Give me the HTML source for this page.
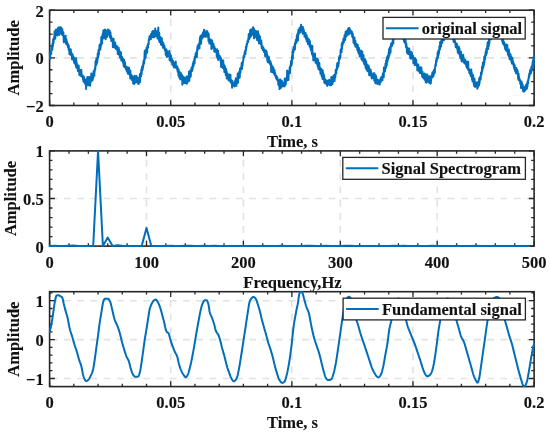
<!DOCTYPE html>
<html><head><meta charset="utf-8"><title>Signal plots</title>
<style>html,body{margin:0;padding:0;background:#fff;width:550px;height:436px;overflow:hidden}svg{display:block}</style>
</head><body>
<svg width="550" height="436" viewBox="0 0 550 436" font-family="'Liberation Serif', 'Times New Roman', serif" font-weight="bold" font-size="16.5">
<style>text{fill:#111;stroke:#111;stroke-width:0.12px}</style>
<rect width="550" height="436" fill="#fff"/>
<path d="M170.72 105.5V10.2M291.85 105.5V10.2M412.97 105.5V10.2M50.7 57.85H534.1" stroke="#e2e2e2" stroke-width="1.6" stroke-dasharray="6.8 6.43" fill="none"/>
<path d="M49.6 105.5v-5.3M49.6 10.2v5.3M170.72 105.5v-5.3M170.72 10.2v5.3M291.85 105.5v-5.3M291.85 10.2v5.3M412.97 105.5v-5.3M412.97 10.2v5.3M534.1 105.5v-5.3M534.1 10.2v5.3M73.83 105.5v-2.9M73.83 10.2v2.9M98.05 105.5v-2.9M98.05 10.2v2.9M122.28 105.5v-2.9M122.28 10.2v2.9M146.5 105.5v-2.9M146.5 10.2v2.9M194.95 105.5v-2.9M194.95 10.2v2.9M219.18 105.5v-2.9M219.18 10.2v2.9M243.4 105.5v-2.9M243.4 10.2v2.9M267.62 105.5v-2.9M267.62 10.2v2.9M316.07 105.5v-2.9M316.07 10.2v2.9M340.3 105.5v-2.9M340.3 10.2v2.9M364.53 105.5v-2.9M364.53 10.2v2.9M388.75 105.5v-2.9M388.75 10.2v2.9M437.2 105.5v-2.9M437.2 10.2v2.9M461.43 105.5v-2.9M461.43 10.2v2.9M485.65 105.5v-2.9M485.65 10.2v2.9M509.88 105.5v-2.9M509.88 10.2v2.9M49.6 105.5h5.3M534.1 105.5h-5.3M49.6 57.85h5.3M534.1 57.85h-5.3M49.6 10.2h5.3M534.1 10.2h-5.3M49.6 93.59h2.9M534.1 93.59h-2.9M49.6 81.67h2.9M534.1 81.67h-2.9M49.6 69.76h2.9M534.1 69.76h-2.9M49.6 45.94h2.9M534.1 45.94h-2.9M49.6 34.03h2.9M534.1 34.03h-2.9M49.6 22.11h2.9M534.1 22.11h-2.9" stroke="#262626" stroke-width="1.3" fill="none"/>
<rect x="49.6" y="10.2" width="484.5" height="95.3" stroke="#262626" stroke-width="1.6" fill="none"/>
<clipPath id="c0"><rect x="48.6" y="9.2" width="486.5" height="97.3"/></clipPath>
<path d="M49.60 52.28L49.76 54.83L49.92 55.17L50.08 58.95L50.25 55.10L50.41 54.78L50.57 53.69L50.73 54.32L50.89 52.51L51.05 52.86L51.22 54.05L51.38 48.73L51.54 48.10L51.70 45.64L51.86 48.48L52.02 48.71L52.18 48.24L52.35 49.60L52.51 43.39L52.67 47.06L52.83 46.46L52.99 43.58L53.15 39.20L53.31 41.14L53.48 43.07L53.64 41.61L53.80 37.95L53.96 38.85L54.12 39.38L54.28 37.48L54.45 34.69L54.61 31.41L54.77 37.73L54.93 35.90L55.09 35.79L55.25 38.76L55.41 35.07L55.58 34.82L55.74 29.79L55.90 32.09L56.06 34.95L56.22 29.80L56.38 31.75L56.54 34.61L56.71 32.11L56.87 32.06L57.03 32.64L57.19 30.68L57.35 35.54L57.51 31.27L57.67 28.51L57.84 28.84L58.00 28.29L58.16 28.26L58.32 27.47L58.48 33.06L58.64 28.87L58.81 34.70L58.97 32.04L59.13 34.89L59.29 28.59L59.45 28.03L59.61 31.37L59.77 27.21L59.94 32.52L60.10 30.82L60.26 30.87L60.42 33.55L60.58 30.38L60.74 27.22L60.91 33.63L61.07 29.55L61.23 31.86L61.39 27.79L61.55 30.61L61.71 30.26L61.87 30.41L62.04 31.35L62.20 34.98L62.36 29.14L62.52 35.31L62.68 32.23L62.84 31.87L63.00 35.49L63.17 33.90L63.33 32.20L63.49 35.21L63.65 37.48L63.81 42.24L63.97 38.48L64.14 38.08L64.30 38.33L64.46 39.68L64.62 37.22L64.78 39.65L64.94 39.05L65.10 37.74L65.27 41.40L65.43 40.57L65.59 35.64L65.75 38.73L65.91 43.70L66.07 41.42L66.23 40.36L66.40 39.25L66.56 41.90L66.72 43.69L66.88 44.46L67.04 41.86L67.20 42.93L67.37 45.09L67.53 44.79L67.69 45.70L67.85 43.72L68.01 47.25L68.17 45.24L68.33 44.98L68.50 46.31L68.66 49.68L68.82 45.55L68.98 50.42L69.14 48.58L69.30 51.61L69.46 54.21L69.63 50.43L69.79 50.71L69.95 51.87L70.11 51.48L70.27 53.80L70.43 54.33L70.59 53.42L70.76 49.28L70.92 51.93L71.08 55.09L71.24 53.07L71.40 55.58L71.56 55.83L71.73 53.31L71.89 56.58L72.05 59.35L72.21 58.02L72.37 56.21L72.53 56.47L72.69 54.42L72.86 58.97L73.02 56.21L73.18 57.22L73.34 58.81L73.50 57.05L73.66 58.14L73.83 61.39L73.99 57.59L74.15 62.85L74.31 60.44L74.47 60.89L74.63 60.31L74.79 63.09L74.96 61.91L75.12 62.44L75.28 60.29L75.44 64.42L75.60 62.85L75.76 63.85L75.92 66.36L76.09 58.12L76.25 64.31L76.41 67.64L76.57 61.73L76.73 67.35L76.89 64.58L77.06 63.85L77.22 67.42L77.38 67.30L77.54 67.89L77.70 67.36L77.86 70.93L78.02 70.46L78.19 68.47L78.35 66.31L78.51 67.54L78.67 65.54L78.83 68.10L78.99 71.02L79.15 70.52L79.32 74.92L79.48 72.92L79.64 73.33L79.80 70.84L79.96 70.29L80.12 73.14L80.28 73.46L80.45 75.78L80.61 73.00L80.77 72.48L80.93 72.35L81.09 75.30L81.25 69.69L81.42 71.75L81.58 74.91L81.74 76.31L81.90 76.41L82.06 75.97L82.22 76.91L82.38 76.38L82.55 76.27L82.71 75.41L82.87 76.31L83.03 79.42L83.19 78.75L83.35 80.80L83.52 81.59L83.68 76.58L83.84 81.97L84.00 76.99L84.16 82.25L84.32 81.17L84.48 79.59L84.65 82.08L84.81 81.49L84.97 83.04L85.13 83.72L85.29 83.21L85.45 84.39L85.61 79.61L85.78 83.55L85.94 79.55L86.10 89.02L86.26 83.22L86.42 82.04L86.58 83.85L86.75 80.84L86.91 81.77L87.07 83.67L87.23 82.09L87.39 76.93L87.55 82.35L87.71 82.18L87.88 83.69L88.04 82.38L88.20 85.35L88.36 82.93L88.52 77.13L88.68 80.00L88.84 80.78L89.01 79.64L89.17 77.82L89.33 80.41L89.49 77.06L89.65 79.02L89.81 80.76L89.97 77.24L90.14 85.78L90.30 81.75L90.46 79.75L90.62 82.07L90.78 80.25L90.94 81.09L91.11 80.92L91.27 73.50L91.43 77.76L91.59 79.01L91.75 75.85L91.91 78.94L92.07 76.28L92.24 77.17L92.40 74.15L92.56 80.39L92.72 75.39L92.88 76.43L93.04 78.79L93.21 73.58L93.37 77.23L93.53 71.34L93.69 73.12L93.85 72.11L94.01 72.80L94.17 70.38L94.34 75.67L94.50 70.87L94.66 71.73L94.82 69.10L94.98 69.12L95.14 66.98L95.30 69.37L95.47 62.89L95.63 61.12L95.79 65.79L95.95 64.63L96.11 63.24L96.27 60.42L96.44 58.34L96.60 64.29L96.76 62.32L96.92 62.58L97.08 62.00L97.24 62.43L97.40 57.44L97.57 60.00L97.73 53.58L97.89 54.14L98.05 57.56L98.21 56.82L98.37 55.15L98.53 50.06L98.70 54.09L98.86 54.68L99.02 50.80L99.18 49.12L99.34 50.57L99.50 44.95L99.66 47.19L99.83 46.05L99.99 48.20L100.15 45.81L100.31 45.44L100.47 49.37L100.63 43.28L100.80 47.16L100.96 42.79L101.12 45.32L101.28 37.25L101.44 40.31L101.60 38.59L101.76 37.88L101.93 42.07L102.09 43.48L102.25 38.63L102.41 35.34L102.57 36.44L102.73 34.35L102.90 33.49L103.06 38.24L103.22 34.05L103.38 30.17L103.54 35.35L103.70 38.23L103.86 34.14L104.03 34.42L104.19 32.33L104.35 34.98L104.51 32.74L104.67 37.60L104.83 30.97L104.99 29.40L105.16 30.02L105.32 36.05L105.48 32.12L105.64 39.20L105.80 32.19L105.96 32.94L106.12 34.94L106.29 32.06L106.45 32.50L106.61 30.79L106.77 32.53L106.93 32.30L107.09 36.97L107.26 35.29L107.42 33.82L107.58 32.16L107.74 32.81L107.90 29.59L108.06 34.70L108.22 33.39L108.39 32.40L108.55 33.54L108.71 32.08L108.87 34.49L109.03 30.35L109.19 34.23L109.35 31.31L109.52 33.93L109.68 30.84L109.84 37.22L110.00 33.29L110.16 35.52L110.32 34.33L110.49 32.55L110.65 37.87L110.81 38.63L110.97 38.33L111.13 36.06L111.29 41.09L111.45 37.29L111.62 40.72L111.78 40.87L111.94 39.66L112.10 38.50L112.26 41.09L112.42 41.20L112.59 40.64L112.75 41.55L112.91 47.13L113.07 42.74L113.23 42.07L113.39 40.33L113.55 38.72L113.72 42.10L113.88 43.77L114.04 46.40L114.20 44.52L114.36 43.39L114.52 42.68L114.68 47.58L114.85 45.47L115.01 44.48L115.17 42.49L115.33 46.16L115.49 48.09L115.65 48.61L115.81 48.10L115.98 48.93L116.14 45.96L116.30 45.64L116.46 46.57L116.62 45.77L116.78 49.51L116.95 47.94L117.11 49.81L117.27 49.13L117.43 46.85L117.59 49.80L117.75 54.00L117.91 50.82L118.08 52.08L118.24 54.07L118.40 52.81L118.56 49.35L118.72 48.10L118.88 53.06L119.04 50.17L119.21 50.11L119.37 55.45L119.53 53.38L119.69 53.73L119.85 53.62L120.01 57.78L120.18 55.50L120.34 52.88L120.50 52.85L120.66 52.04L120.82 57.11L120.98 52.80L121.14 55.79L121.31 60.55L121.47 56.41L121.63 59.19L121.79 57.71L121.95 59.41L122.11 56.97L122.28 59.37L122.44 60.89L122.60 58.57L122.76 60.44L122.92 62.22L123.08 58.94L123.24 62.90L123.41 63.73L123.57 63.85L123.73 66.17L123.89 64.54L124.05 59.69L124.21 65.95L124.37 64.30L124.54 67.02L124.70 66.27L124.86 62.02L125.02 63.68L125.18 67.22L125.34 66.21L125.50 68.29L125.67 68.50L125.83 69.07L125.99 69.31L126.15 66.96L126.31 66.64L126.47 67.12L126.64 68.76L126.80 71.52L126.96 68.95L127.12 70.97L127.28 67.28L127.44 68.15L127.60 67.91L127.77 70.43L127.93 73.75L128.09 67.99L128.25 67.61L128.41 73.63L128.57 70.38L128.74 68.36L128.90 73.49L129.06 67.71L129.22 72.60L129.38 74.54L129.54 69.70L129.70 72.43L129.87 74.89L130.03 72.02L130.19 78.51L130.35 70.81L130.51 76.81L130.67 74.78L130.83 76.57L131.00 75.11L131.16 74.46L131.32 78.46L131.48 75.32L131.64 77.95L131.80 79.09L131.97 78.38L132.13 80.32L132.29 80.13L132.45 76.62L132.61 79.18L132.77 76.59L132.93 78.27L133.10 81.54L133.26 83.55L133.42 81.10L133.58 79.20L133.74 79.88L133.90 81.80L134.06 77.97L134.23 83.99L134.39 83.04L134.55 80.14L134.71 75.78L134.87 79.64L135.03 82.72L135.19 79.30L135.36 79.11L135.52 78.56L135.68 81.45L135.84 82.29L136.00 80.32L136.16 79.68L136.33 77.15L136.49 76.09L136.65 82.14L136.81 81.69L136.97 80.71L137.13 81.11L137.29 79.53L137.46 79.53L137.62 80.02L137.78 77.69L137.94 80.91L138.10 82.78L138.26 83.79L138.42 82.51L138.59 82.37L138.75 83.97L138.91 78.27L139.07 79.03L139.23 80.05L139.39 80.75L139.56 81.93L139.72 80.20L139.88 73.94L140.04 82.24L140.20 76.72L140.36 74.90L140.52 75.62L140.69 75.97L140.85 73.00L141.01 76.36L141.17 72.15L141.33 69.62L141.49 74.30L141.66 73.17L141.82 70.46L141.98 67.95L142.14 66.50L142.30 67.21L142.46 69.40L142.62 69.64L142.79 66.01L142.95 64.96L143.11 67.47L143.27 64.28L143.43 62.98L143.59 60.72L143.75 64.36L143.92 60.31L144.08 63.28L144.24 60.97L144.40 59.51L144.56 55.40L144.72 50.87L144.89 56.78L145.05 55.63L145.21 53.92L145.37 58.40L145.53 53.24L145.69 56.96L145.85 50.23L146.02 50.05L146.18 51.48L146.34 53.70L146.50 47.80L146.66 50.21L146.82 49.91L146.98 48.27L147.15 52.54L147.31 47.30L147.47 45.44L147.63 46.20L147.79 45.97L147.95 47.69L148.12 43.63L148.28 43.97L148.44 43.77L148.60 44.37L148.76 40.68L148.92 39.20L149.08 40.41L149.25 38.72L149.41 37.23L149.57 36.15L149.73 38.61L149.89 39.16L150.05 39.25L150.21 38.02L150.38 36.57L150.54 35.47L150.70 38.15L150.86 36.67L151.02 38.90L151.18 33.84L151.34 37.19L151.51 35.39L151.67 37.50L151.83 36.41L151.99 37.05L152.15 31.74L152.31 34.43L152.48 35.38L152.64 36.88L152.80 35.98L152.96 33.29L153.12 30.79L153.28 37.29L153.44 36.06L153.61 34.36L153.77 35.23L153.93 37.37L154.09 33.71L154.25 32.08L154.41 37.01L154.58 33.13L154.74 31.46L154.90 31.38L155.06 34.34L155.22 28.47L155.38 32.19L155.54 35.10L155.71 31.24L155.87 35.76L156.03 31.46L156.19 36.14L156.35 31.82L156.51 34.86L156.67 31.30L156.84 32.28L157.00 33.06L157.16 34.05L157.32 32.01L157.48 38.38L157.64 33.77L157.81 33.98L157.97 33.84L158.13 33.45L158.29 27.46L158.45 35.34L158.61 34.07L158.77 35.68L158.94 32.87L159.10 40.81L159.26 33.09L159.42 38.45L159.58 42.10L159.74 39.83L159.90 38.17L160.07 37.66L160.23 38.47L160.39 36.91L160.55 39.04L160.71 39.42L160.87 44.21L161.03 38.92L161.20 38.16L161.36 41.60L161.52 45.10L161.68 44.32L161.84 38.25L162.00 43.52L162.17 44.02L162.33 44.72L162.49 41.88L162.65 44.97L162.81 45.95L162.97 47.69L163.13 45.07L163.30 43.07L163.46 45.92L163.62 44.09L163.78 45.99L163.94 46.44L164.10 46.76L164.27 47.47L164.43 45.78L164.59 47.38L164.75 50.14L164.91 49.10L165.07 50.01L165.23 49.27L165.40 50.37L165.56 50.30L165.72 54.75L165.88 51.13L166.04 49.44L166.20 55.42L166.36 49.30L166.53 52.25L166.69 53.46L166.85 56.99L167.01 50.88L167.17 55.38L167.33 54.47L167.50 52.27L167.66 55.71L167.82 55.70L167.98 56.13L168.14 53.99L168.30 52.59L168.46 53.10L168.63 53.23L168.79 55.01L168.95 54.21L169.11 56.29L169.27 50.88L169.43 55.13L169.59 60.15L169.76 58.67L169.92 53.35L170.08 60.11L170.24 58.48L170.40 57.00L170.56 60.54L170.72 56.22L170.89 55.22L171.05 60.89L171.21 57.01L171.37 61.64L171.53 62.17L171.69 59.80L171.86 60.10L172.02 62.17L172.18 59.37L172.34 64.61L172.50 63.56L172.66 64.31L172.82 60.64L172.99 60.80L173.15 61.36L173.31 65.82L173.47 63.01L173.63 62.56L173.79 67.26L173.95 65.80L174.12 62.89L174.28 63.00L174.44 64.20L174.60 63.81L174.76 64.50L174.92 65.09L175.09 65.86L175.25 67.69L175.41 66.53L175.57 67.04L175.73 61.38L175.89 65.97L176.05 66.72L176.22 67.37L176.38 67.30L176.54 67.83L176.70 66.28L176.86 67.74L177.02 66.17L177.19 69.67L177.35 67.73L177.51 66.97L177.67 71.74L177.83 69.36L177.99 69.67L178.15 71.40L178.32 72.20L178.48 75.60L178.64 69.58L178.80 74.43L178.96 75.44L179.12 71.71L179.28 77.39L179.45 71.72L179.61 73.18L179.77 73.14L179.93 75.08L180.09 77.64L180.25 79.36L180.41 72.47L180.58 76.87L180.74 77.22L180.90 72.97L181.06 77.95L181.22 77.33L181.38 77.55L181.55 77.55L181.71 79.69L181.87 78.87L182.03 75.11L182.19 76.42L182.35 84.63L182.51 82.62L182.68 77.88L182.84 79.01L183.00 79.73L183.16 76.84L183.32 83.05L183.48 76.80L183.65 79.23L183.81 78.47L183.97 79.25L184.13 78.13L184.29 80.62L184.45 81.39L184.61 78.69L184.78 80.11L184.94 83.29L185.10 77.81L185.26 78.18L185.42 77.75L185.58 80.70L185.74 80.13L185.91 81.67L186.07 82.90L186.23 80.60L186.39 80.27L186.55 81.97L186.71 76.50L186.88 83.76L187.04 81.90L187.20 81.44L187.36 77.08L187.52 80.25L187.68 80.22L187.84 81.21L188.01 80.71L188.17 81.60L188.33 76.33L188.49 76.88L188.65 75.73L188.81 78.93L188.97 71.76L189.14 78.89L189.30 80.81L189.46 76.66L189.62 75.36L189.78 73.66L189.94 77.09L190.10 73.26L190.27 70.46L190.43 75.54L190.59 74.88L190.75 76.51L190.91 71.89L191.07 70.12L191.24 69.85L191.40 69.24L191.56 67.52L191.72 69.80L191.88 67.55L192.04 71.15L192.20 70.31L192.37 67.60L192.53 69.35L192.69 65.85L192.85 63.59L193.01 65.13L193.17 67.03L193.33 66.50L193.50 61.40L193.66 65.48L193.82 63.01L193.98 63.19L194.14 61.95L194.30 59.14L194.47 62.08L194.63 63.38L194.79 56.66L194.95 58.70L195.11 57.03L195.27 58.03L195.43 55.72L195.60 54.07L195.76 53.26L195.92 56.17L196.08 55.75L196.24 53.56L196.40 53.37L196.56 52.03L196.73 54.20L196.89 57.10L197.05 50.59L197.21 49.32L197.37 49.07L197.53 46.34L197.70 47.52L197.86 49.64L198.02 46.16L198.18 47.92L198.34 44.51L198.50 46.16L198.66 45.17L198.83 45.13L198.99 44.97L199.15 47.77L199.31 43.90L199.47 48.36L199.63 41.87L199.79 40.27L199.96 37.47L200.12 40.55L200.28 42.39L200.44 43.78L200.60 35.75L200.76 42.56L200.93 37.19L201.09 43.67L201.25 38.45L201.41 36.51L201.57 36.92L201.73 37.36L201.89 38.71L202.06 38.58L202.22 34.18L202.38 35.14L202.54 36.18L202.70 35.17L202.86 37.40L203.02 33.01L203.19 32.29L203.35 36.46L203.51 34.38L203.67 32.17L203.83 35.62L203.99 29.74L204.16 30.74L204.32 34.48L204.48 31.72L204.64 30.22L204.80 36.45L204.96 32.45L205.12 34.09L205.29 34.24L205.45 32.26L205.61 34.80L205.77 36.78L205.93 36.83L206.09 33.82L206.25 32.43L206.42 33.83L206.58 34.11L206.74 33.87L206.90 31.10L207.06 32.84L207.22 35.73L207.39 34.94L207.55 31.97L207.71 36.05L207.87 35.93L208.03 35.45L208.19 38.00L208.35 34.12L208.52 41.11L208.68 33.69L208.84 38.35L209.00 40.88L209.16 38.41L209.32 43.48L209.49 39.33L209.65 39.27L209.81 42.52L209.97 42.44L210.13 39.85L210.29 43.58L210.45 42.33L210.62 41.86L210.78 39.46L210.94 44.09L211.10 43.13L211.26 40.98L211.42 49.10L211.58 44.41L211.75 48.16L211.91 48.27L212.07 40.40L212.23 44.42L212.39 41.96L212.55 45.94L212.72 44.55L212.88 46.92L213.04 47.46L213.20 46.74L213.36 46.61L213.52 43.90L213.68 47.93L213.85 47.01L214.01 48.70L214.17 48.16L214.33 51.64L214.49 46.87L214.65 50.74L214.81 49.96L214.98 50.95L215.14 48.81L215.30 50.22L215.46 51.71L215.62 51.73L215.78 51.69L215.94 51.07L216.11 51.82L216.27 50.33L216.43 49.79L216.59 52.09L216.75 56.38L216.91 49.92L217.08 49.18L217.24 54.68L217.40 54.91L217.56 58.56L217.72 52.60L217.88 56.57L218.04 50.64L218.21 60.05L218.37 54.78L218.53 53.71L218.69 56.26L218.85 57.36L219.01 55.40L219.18 57.37L219.34 57.28L219.50 56.94L219.66 58.37L219.82 57.99L219.98 56.15L220.14 59.02L220.31 58.20L220.47 60.56L220.63 57.38L220.79 62.50L220.95 58.11L221.11 67.07L221.27 62.95L221.44 64.83L221.60 59.66L221.76 61.67L221.92 65.45L222.08 64.26L222.24 60.53L222.40 63.91L222.57 62.93L222.73 67.72L222.89 68.06L223.05 63.94L223.21 60.56L223.37 67.00L223.54 64.91L223.70 68.54L223.86 64.17L224.02 68.17L224.18 68.48L224.34 71.96L224.50 69.16L224.67 68.25L224.83 66.08L224.99 71.96L225.15 67.75L225.31 71.00L225.47 71.30L225.63 73.14L225.80 75.17L225.96 74.54L226.12 68.86L226.28 75.30L226.44 74.07L226.60 71.13L226.77 78.39L226.93 73.25L227.09 75.63L227.25 74.46L227.41 73.32L227.57 75.82L227.73 76.22L227.90 74.53L228.06 75.02L228.22 78.21L228.38 77.36L228.54 80.12L228.70 74.74L228.87 80.38L229.03 77.65L229.19 74.58L229.35 76.86L229.51 79.49L229.67 80.70L229.83 80.75L230.00 77.70L230.16 79.20L230.32 80.19L230.48 74.84L230.64 82.46L230.80 81.94L230.96 81.92L231.13 80.85L231.29 80.84L231.45 82.26L231.61 80.27L231.77 80.87L231.93 82.85L232.09 87.65L232.26 80.87L232.42 84.77L232.58 84.30L232.74 83.36L232.90 85.84L233.06 85.04L233.23 83.27L233.39 84.23L233.55 82.86L233.71 85.41L233.87 84.06L234.03 85.82L234.19 84.12L234.36 82.84L234.52 83.91L234.68 86.39L234.84 83.64L235.00 82.82L235.16 80.62L235.33 83.04L235.49 83.73L235.65 85.25L235.81 78.35L235.97 84.51L236.13 84.74L236.29 82.47L236.46 85.87L236.62 79.45L236.78 81.14L236.94 80.25L237.10 83.15L237.26 81.86L237.42 78.59L237.59 78.11L237.75 73.55L237.91 76.81L238.07 82.75L238.23 78.00L238.39 78.46L238.55 74.81L238.72 76.83L238.88 75.07L239.04 76.29L239.20 73.77L239.36 71.39L239.52 75.27L239.69 77.75L239.85 75.01L240.01 68.84L240.17 71.11L240.33 71.61L240.49 72.42L240.65 67.48L240.82 68.50L240.98 68.73L241.14 69.03L241.30 67.59L241.46 67.32L241.62 64.78L241.78 62.64L241.95 68.94L242.11 67.21L242.27 63.66L242.43 62.63L242.59 65.48L242.75 62.83L242.92 61.72L243.08 61.16L243.24 60.55L243.40 59.10L243.56 56.38L243.72 56.05L243.88 55.72L244.05 55.77L244.21 57.26L244.37 56.12L244.53 52.96L244.69 53.56L244.85 51.45L245.01 51.96L245.18 51.75L245.34 50.30L245.50 53.90L245.66 50.29L245.82 50.56L245.98 46.83L246.15 49.41L246.31 46.80L246.47 47.55L246.63 44.93L246.79 43.74L246.95 45.05L247.11 43.72L247.28 42.91L247.44 40.98L247.60 42.72L247.76 41.32L247.92 41.69L248.08 42.18L248.24 39.08L248.41 37.88L248.57 39.87L248.73 34.12L248.89 38.50L249.05 34.73L249.21 35.01L249.38 39.02L249.54 35.04L249.70 38.06L249.86 34.66L250.02 32.75L250.18 30.03L250.34 32.10L250.51 36.88L250.67 34.18L250.83 30.05L250.99 32.74L251.15 29.20L251.31 34.42L251.47 33.94L251.64 35.54L251.80 33.37L251.96 29.75L252.12 34.35L252.28 30.47L252.44 31.19L252.61 30.40L252.77 32.57L252.93 31.90L253.09 27.32L253.25 34.56L253.41 30.24L253.57 28.62L253.74 30.92L253.90 28.39L254.06 38.36L254.22 32.71L254.38 34.64L254.54 33.11L254.70 32.54L254.87 31.38L255.03 34.35L255.19 30.75L255.35 36.12L255.51 30.80L255.67 33.52L255.84 36.93L256.00 37.11L256.16 37.35L256.32 35.86L256.48 33.72L256.64 31.41L256.80 32.84L256.97 37.69L257.13 40.08L257.29 36.11L257.45 38.85L257.61 36.49L257.77 37.90L257.94 31.23L258.10 40.75L258.26 36.69L258.42 33.69L258.58 38.88L258.74 40.01L258.90 35.06L259.07 43.57L259.23 43.05L259.39 42.35L259.55 39.22L259.71 38.77L259.87 41.07L260.03 36.48L260.20 41.99L260.36 41.93L260.52 42.98L260.68 40.09L260.84 43.14L261.00 44.45L261.17 40.40L261.33 41.69L261.49 42.73L261.65 48.05L261.81 48.04L261.97 46.64L262.13 47.05L262.30 47.79L262.46 47.70L262.62 46.18L262.78 50.11L262.94 47.74L263.10 49.48L263.26 50.00L263.43 49.92L263.59 48.05L263.75 49.39L263.91 52.03L264.07 49.96L264.23 50.72L264.40 50.45L264.56 52.25L264.72 49.85L264.88 51.51L265.04 55.14L265.20 55.77L265.36 56.38L265.53 52.82L265.69 55.51L265.85 55.11L266.01 54.85L266.17 52.40L266.33 50.70L266.49 56.01L266.66 51.84L266.82 55.33L266.98 54.29L267.14 57.86L267.30 60.31L267.46 56.96L267.62 55.59L267.79 62.10L267.95 59.22L268.11 58.96L268.27 58.48L268.43 62.42L268.59 61.60L268.76 58.69L268.92 57.09L269.08 61.05L269.24 59.44L269.40 61.46L269.56 61.18L269.72 63.22L269.89 63.16L270.05 64.19L270.21 63.03L270.37 61.17L270.53 63.44L270.69 62.76L270.86 65.87L271.02 63.27L271.18 71.94L271.34 68.55L271.50 66.55L271.66 70.09L271.82 65.30L271.99 66.42L272.15 69.20L272.31 67.39L272.47 71.21L272.63 70.28L272.79 69.53L272.95 72.54L273.12 67.22L273.28 71.31L273.44 68.10L273.60 71.05L273.76 70.50L273.92 73.57L274.09 72.70L274.25 73.37L274.41 72.38L274.57 70.33L274.73 74.89L274.89 74.41L275.05 73.66L275.22 72.95L275.38 75.41L275.54 76.36L275.70 77.14L275.86 76.22L276.02 76.06L276.18 78.40L276.35 77.92L276.51 75.96L276.67 77.97L276.83 79.46L276.99 77.01L277.15 77.31L277.31 77.83L277.48 78.02L277.64 80.61L277.80 79.62L277.96 79.69L278.12 80.40L278.28 84.72L278.45 81.27L278.61 80.74L278.77 80.68L278.93 82.61L279.09 82.12L279.25 86.26L279.41 85.76L279.58 89.08L279.74 83.35L279.90 79.53L280.06 79.42L280.22 85.75L280.38 82.08L280.55 80.91L280.71 84.40L280.87 88.09L281.03 80.93L281.19 84.85L281.35 85.01L281.51 80.57L281.68 83.29L281.84 82.52L282.00 80.92L282.16 84.68L282.32 86.44L282.48 82.63L282.64 84.29L282.81 82.65L282.97 83.34L283.13 85.78L283.29 84.03L283.45 84.74L283.61 84.45L283.77 83.96L283.94 83.04L284.10 83.27L284.26 86.36L284.42 82.18L284.58 86.50L284.74 78.50L284.91 84.70L285.07 82.95L285.23 79.68L285.39 82.70L285.55 84.68L285.71 84.69L285.87 80.66L286.04 80.02L286.20 78.76L286.36 79.58L286.52 80.82L286.68 78.40L286.84 75.94L287.00 80.36L287.17 70.54L287.33 78.67L287.49 74.62L287.65 72.78L287.81 74.38L287.97 75.18L288.14 73.76L288.30 71.91L288.46 79.90L288.62 72.69L288.78 73.98L288.94 74.03L289.10 71.71L289.27 70.98L289.43 69.69L289.59 71.37L289.75 67.04L289.91 73.29L290.07 70.20L290.24 70.05L290.40 66.50L290.56 67.08L290.72 64.14L290.88 66.22L291.04 61.01L291.20 61.42L291.37 63.34L291.53 65.05L291.69 63.11L291.85 62.98L292.01 56.06L292.17 56.16L292.33 59.55L292.50 51.82L292.66 55.55L292.82 58.82L292.98 50.73L293.14 49.39L293.30 51.34L293.46 52.49L293.63 47.18L293.79 50.22L293.95 48.50L294.11 46.80L294.27 46.53L294.43 47.56L294.60 48.21L294.76 43.77L294.92 49.56L295.08 43.54L295.24 43.12L295.40 42.02L295.56 43.40L295.73 41.60L295.89 39.83L296.05 43.25L296.21 40.39L296.37 39.21L296.53 42.27L296.69 41.15L296.86 35.28L297.02 36.00L297.18 39.37L297.34 35.77L297.50 35.97L297.66 33.33L297.83 33.38L297.99 40.50L298.15 35.34L298.31 31.07L298.47 29.67L298.63 33.59L298.79 34.04L298.96 30.13L299.12 31.63L299.28 29.99L299.44 32.20L299.60 27.80L299.76 27.99L299.92 28.04L300.09 31.22L300.25 32.35L300.41 31.38L300.57 27.51L300.73 32.43L300.89 27.17L301.06 24.80L301.22 29.99L301.38 29.10L301.54 26.65L301.70 26.87L301.86 30.24L302.02 29.38L302.19 28.84L302.35 29.78L302.51 28.13L302.67 28.88L302.83 27.07L302.99 33.86L303.15 28.01L303.32 29.19L303.48 31.63L303.64 30.86L303.80 30.06L303.96 31.91L304.12 33.45L304.29 32.66L304.45 35.11L304.61 36.78L304.77 36.20L304.93 36.34L305.09 34.64L305.25 33.71L305.42 35.25L305.58 33.00L305.74 36.66L305.90 38.19L306.06 38.70L306.22 39.39L306.39 38.42L306.55 35.11L306.71 41.48L306.87 37.38L307.03 38.83L307.19 37.22L307.35 40.23L307.52 37.87L307.68 40.70L307.84 38.49L308.00 44.26L308.16 39.24L308.32 38.95L308.48 44.23L308.65 39.28L308.81 43.85L308.97 39.66L309.13 42.21L309.29 41.18L309.45 42.36L309.62 46.25L309.78 40.91L309.94 42.17L310.10 47.53L310.26 44.68L310.42 45.44L310.58 48.40L310.75 49.67L310.91 45.20L311.07 49.31L311.23 47.02L311.39 45.39L311.55 48.93L311.71 52.36L311.88 48.83L312.04 54.36L312.20 53.81L312.36 46.02L312.52 54.44L312.68 52.41L312.85 55.86L313.01 54.26L313.17 53.98L313.33 60.50L313.49 56.62L313.65 54.18L313.81 54.12L313.98 55.63L314.14 58.75L314.30 56.23L314.46 58.48L314.62 59.42L314.78 58.09L314.94 53.52L315.11 60.65L315.27 56.79L315.43 58.77L315.59 62.79L315.75 61.85L315.91 60.54L316.07 61.47L316.24 60.18L316.40 63.16L316.56 63.49L316.72 59.45L316.88 61.97L317.04 64.02L317.21 62.49L317.37 58.84L317.53 64.31L317.69 66.54L317.85 61.62L318.01 59.70L318.17 61.51L318.34 67.33L318.50 69.23L318.66 62.41L318.82 65.83L318.98 64.69L319.14 66.51L319.31 62.86L319.47 66.67L319.63 67.88L319.79 67.29L319.95 70.56L320.11 68.04L320.27 68.99L320.44 73.75L320.60 72.07L320.76 72.73L320.92 73.82L321.08 70.09L321.24 68.85L321.40 70.98L321.57 75.25L321.73 76.30L321.89 71.22L322.05 73.97L322.21 73.95L322.37 76.93L322.54 78.92L322.70 70.23L322.86 76.69L323.02 76.20L323.18 78.63L323.34 73.28L323.50 77.69L323.67 77.62L323.83 77.53L323.99 78.01L324.15 75.30L324.31 82.61L324.47 77.72L324.63 80.75L324.80 80.64L324.96 81.42L325.12 79.49L325.28 83.45L325.44 82.12L325.60 79.99L325.76 82.62L325.93 82.58L326.09 80.88L326.25 81.62L326.41 82.65L326.57 81.93L326.73 84.05L326.90 80.42L327.06 84.69L327.22 85.88L327.38 81.61L327.54 85.41L327.70 84.70L327.86 83.16L328.03 81.22L328.19 83.78L328.35 83.71L328.51 83.68L328.67 81.95L328.83 83.85L329.00 82.23L329.16 79.83L329.32 83.21L329.48 83.51L329.64 84.69L329.80 84.29L329.96 85.30L330.13 84.97L330.29 83.83L330.45 81.84L330.61 81.48L330.77 83.41L330.93 81.76L331.09 85.19L331.26 77.93L331.42 76.98L331.58 82.41L331.74 80.91L331.90 81.59L332.06 79.91L332.22 82.67L332.39 84.30L332.55 79.03L332.71 82.79L332.87 79.39L333.03 81.79L333.19 81.14L333.36 77.06L333.52 75.40L333.68 78.85L333.84 79.07L334.00 77.15L334.16 78.57L334.32 80.69L334.49 76.60L334.65 80.90L334.81 74.73L334.97 76.25L335.13 74.28L335.29 77.34L335.45 75.29L335.62 71.95L335.78 69.73L335.94 70.32L336.10 70.73L336.26 73.35L336.42 69.14L336.59 69.45L336.75 69.77L336.91 65.65L337.07 69.42L337.23 63.33L337.39 67.81L337.55 67.19L337.72 65.27L337.88 67.21L338.04 64.71L338.20 62.87L338.36 66.00L338.52 63.47L338.69 63.98L338.85 61.26L339.01 57.18L339.17 59.86L339.33 58.63L339.49 57.04L339.65 59.20L339.82 55.64L339.98 56.54L340.14 56.11L340.30 57.70L340.46 54.69L340.62 50.42L340.78 49.35L340.95 51.86L341.11 50.36L341.27 50.71L341.43 51.46L341.59 52.26L341.75 44.06L341.92 49.15L342.08 45.92L342.24 42.39L342.40 45.88L342.56 44.75L342.72 43.17L342.88 43.84L343.05 41.88L343.21 42.48L343.37 38.70L343.53 39.46L343.69 42.44L343.85 42.17L344.01 40.15L344.18 39.57L344.34 39.36L344.50 35.35L344.66 38.47L344.82 37.50L344.98 35.82L345.15 40.00L345.31 34.46L345.47 33.79L345.63 31.71L345.79 36.49L345.95 35.10L346.11 33.39L346.28 34.40L346.44 36.51L346.60 31.26L346.76 33.62L346.92 32.08L347.08 34.95L347.24 30.43L347.41 33.06L347.57 33.70L347.73 30.33L347.89 29.53L348.05 33.79L348.21 29.57L348.38 28.17L348.54 31.03L348.70 34.59L348.86 30.36L349.02 29.32L349.18 33.82L349.34 28.10L349.51 32.15L349.67 32.05L349.83 29.53L349.99 31.51L350.15 29.38L350.31 32.18L350.47 31.43L350.64 32.33L350.80 31.99L350.96 31.38L351.12 31.74L351.28 33.64L351.44 31.26L351.61 33.78L351.77 31.39L351.93 33.04L352.09 34.98L352.25 36.80L352.41 35.60L352.57 33.17L352.74 36.17L352.90 34.91L353.06 37.58L353.22 38.47L353.38 39.69L353.54 42.78L353.70 38.36L353.87 39.38L354.03 39.99L354.19 38.63L354.35 42.83L354.51 37.50L354.67 44.68L354.84 41.41L355.00 44.90L355.16 43.33L355.32 40.67L355.48 46.74L355.64 43.55L355.80 44.09L355.97 44.33L356.13 44.54L356.29 43.73L356.45 44.75L356.61 45.34L356.77 44.57L356.93 45.38L357.10 47.39L357.26 50.05L357.42 46.02L357.58 48.76L357.74 44.80L357.90 49.83L358.06 51.53L358.23 46.84L358.39 51.19L358.55 53.14L358.71 47.76L358.87 53.75L359.03 48.17L359.20 53.39L359.36 50.84L359.52 51.59L359.68 56.32L359.84 52.82L360.00 54.04L360.16 53.22L360.33 52.69L360.49 50.78L360.65 54.99L360.81 55.01L360.97 50.49L361.13 53.86L361.30 54.08L361.46 59.29L361.62 59.30L361.78 57.79L361.94 57.29L362.10 56.13L362.26 51.61L362.43 60.44L362.59 58.93L362.75 56.99L362.91 58.05L363.07 56.52L363.23 59.84L363.39 61.44L363.56 55.33L363.72 59.16L363.88 62.96L364.04 61.43L364.20 61.12L364.36 64.48L364.53 59.91L364.69 61.55L364.85 62.95L365.01 63.86L365.17 59.23L365.33 63.23L365.49 65.02L365.66 68.05L365.82 66.24L365.98 62.77L366.14 61.36L366.30 67.35L366.46 69.54L366.62 65.38L366.79 65.85L366.95 64.20L367.11 67.87L367.27 66.42L367.43 70.93L367.59 69.90L367.75 68.71L367.92 68.79L368.08 67.00L368.24 65.81L368.40 71.78L368.56 65.41L368.72 70.93L368.89 70.52L369.05 67.49L369.21 75.35L369.37 73.62L369.53 72.57L369.69 70.92L369.85 69.07L370.02 69.33L370.18 73.95L370.34 70.70L370.50 73.52L370.66 69.74L370.82 73.84L370.99 71.28L371.15 76.07L371.31 72.50L371.47 77.39L371.63 74.51L371.79 78.48L371.95 75.58L372.12 77.20L372.28 77.84L372.44 75.45L372.60 74.50L372.76 76.15L372.92 75.94L373.08 75.25L373.25 74.38L373.41 75.00L373.57 76.51L373.73 73.28L373.89 78.83L374.05 76.20L374.22 80.54L374.38 73.13L374.54 78.96L374.70 78.26L374.86 75.81L375.02 79.36L375.18 80.92L375.35 83.26L375.51 80.02L375.67 75.21L375.83 79.39L375.99 76.17L376.15 78.24L376.31 81.11L376.48 83.29L376.64 80.77L376.80 79.11L376.96 81.00L377.12 80.25L377.28 79.46L377.44 81.57L377.61 83.98L377.77 81.64L377.93 79.77L378.09 82.81L378.25 83.35L378.41 83.26L378.58 81.61L378.74 81.36L378.90 81.17L379.06 83.71L379.22 80.84L379.38 82.16L379.54 82.72L379.71 84.54L379.87 82.82L380.03 81.60L380.19 79.82L380.35 79.09L380.51 79.73L380.68 79.14L380.84 81.88L381.00 77.55L381.16 77.29L381.32 77.32L381.48 79.57L381.64 78.39L381.81 78.89L381.97 80.37L382.13 77.92L382.29 80.14L382.45 80.23L382.61 74.84L382.77 74.46L382.94 73.44L383.10 75.77L383.26 74.34L383.42 72.79L383.58 74.25L383.74 77.30L383.91 67.58L384.07 69.17L384.23 68.56L384.39 70.48L384.55 71.79L384.71 69.31L384.87 68.28L385.04 71.25L385.20 68.75L385.36 65.97L385.52 63.40L385.68 64.79L385.84 66.44L386.00 67.81L386.17 60.19L386.33 63.76L386.49 61.86L386.65 62.90L386.81 65.31L386.97 57.23L387.13 59.88L387.30 58.10L387.46 61.80L387.62 59.52L387.78 55.80L387.94 58.71L388.10 58.69L388.27 58.73L388.43 58.39L388.59 52.88L388.75 54.00L388.91 57.00L389.07 49.19L389.23 49.12L389.40 48.85L389.56 54.79L389.72 50.13L389.88 47.13L390.04 51.71L390.20 50.80L390.37 49.19L390.53 52.61L390.69 47.41L390.85 45.34L391.01 45.61L391.17 43.38L391.33 45.92L391.50 45.68L391.66 45.47L391.82 45.99L391.98 46.18L392.14 44.84L392.30 42.80L392.46 43.14L392.63 41.13L392.79 40.58L392.95 38.80L393.11 40.73L393.27 43.57L393.43 40.74L393.60 34.17L393.76 36.27L393.92 38.38L394.08 37.57L394.24 36.94L394.40 37.41L394.56 35.64L394.73 34.26L394.89 32.81L395.05 35.91L395.21 35.49L395.37 35.33L395.53 34.33L395.69 31.92L395.86 35.65L396.02 29.16L396.18 32.58L396.34 31.26L396.50 35.46L396.66 34.22L396.83 34.43L396.99 33.10L397.15 37.47L397.31 31.94L397.47 36.54L397.63 32.05L397.79 30.60L397.96 32.86L398.12 33.06L398.28 33.02L398.44 33.12L398.60 32.07L398.76 30.70L398.92 31.28L399.09 29.47L399.25 32.54L399.41 33.89L399.57 33.86L399.73 35.59L399.89 33.84L400.06 34.37L400.22 29.37L400.38 32.18L400.54 29.55L400.70 37.61L400.86 32.99L401.02 31.55L401.19 33.20L401.35 35.05L401.51 33.90L401.67 34.27L401.83 34.46L401.99 34.44L402.15 33.27L402.32 35.12L402.48 35.31L402.64 36.22L402.80 35.63L402.96 38.48L403.12 36.08L403.29 38.37L403.45 36.22L403.61 39.68L403.77 38.91L403.93 39.54L404.09 41.75L404.25 37.79L404.42 39.70L404.58 40.90L404.74 38.86L404.90 42.70L405.06 42.56L405.22 40.67L405.38 38.33L405.55 43.87L405.71 41.08L405.87 44.64L406.03 47.16L406.19 44.80L406.35 43.66L406.52 46.29L406.68 46.13L406.84 49.84L407.00 52.78L407.16 47.82L407.32 51.79L407.48 49.27L407.65 50.89L407.81 49.52L407.97 48.33L408.13 54.07L408.29 51.11L408.45 51.38L408.61 48.46L408.78 51.44L408.94 53.57L409.10 53.29L409.26 48.44L409.42 54.40L409.58 52.64L409.75 52.40L409.91 55.65L410.07 55.18L410.23 57.90L410.39 55.87L410.55 52.78L410.71 53.97L410.88 58.72L411.04 51.87L411.20 58.02L411.36 57.47L411.52 52.26L411.68 54.94L411.84 56.34L412.01 53.24L412.17 56.83L412.33 56.18L412.49 58.37L412.65 57.66L412.81 57.79L412.97 55.51L413.14 59.43L413.30 58.74L413.46 63.18L413.62 62.43L413.78 57.53L413.94 60.08L414.11 60.23L414.27 58.45L414.43 60.71L414.59 60.06L414.75 61.14L414.91 65.12L415.07 59.81L415.24 58.24L415.40 59.18L415.56 61.87L415.72 61.73L415.88 61.77L416.04 59.67L416.21 60.64L416.37 64.21L416.53 64.06L416.69 64.51L416.85 65.62L417.01 66.01L417.17 65.28L417.34 70.44L417.50 64.83L417.66 66.90L417.82 68.82L417.98 66.95L418.14 68.45L418.30 64.59L418.47 69.80L418.63 67.60L418.79 67.31L418.95 70.12L419.11 71.26L419.27 68.13L419.44 70.08L419.60 71.52L419.76 72.88L419.92 68.81L420.08 67.22L420.24 71.82L420.40 69.88L420.57 68.98L420.73 69.48L420.89 73.14L421.05 71.09L421.21 71.08L421.37 67.47L421.53 72.69L421.70 71.24L421.86 72.03L422.02 72.69L422.18 76.44L422.34 74.04L422.50 71.78L422.66 75.99L422.83 74.98L422.99 77.39L423.15 75.46L423.31 75.57L423.47 75.12L423.63 77.68L423.80 78.02L423.96 78.58L424.12 77.09L424.28 77.53L424.44 73.44L424.60 79.67L424.76 77.11L424.93 79.86L425.09 79.86L425.25 76.78L425.41 78.29L425.57 78.20L425.73 82.23L425.90 74.18L426.06 75.37L426.22 81.30L426.38 82.72L426.54 81.52L426.70 79.62L426.86 82.12L427.03 79.67L427.19 81.64L427.35 74.56L427.51 80.78L427.67 81.23L427.83 76.10L427.99 79.55L428.16 80.19L428.32 80.25L428.48 78.94L428.64 80.96L428.80 79.77L428.96 81.08L429.12 82.68L429.29 80.48L429.45 79.39L429.61 76.36L429.77 79.13L429.93 80.22L430.09 79.14L430.26 78.04L430.42 83.81L430.58 79.86L430.74 83.30L430.90 82.27L431.06 79.99L431.22 78.53L431.39 77.96L431.55 77.57L431.71 74.89L431.87 76.45L432.03 76.32L432.19 77.49L432.35 72.48L432.52 73.47L432.68 77.01L432.84 76.62L433.00 73.40L433.16 72.52L433.32 74.83L433.49 71.39L433.65 75.72L433.81 73.07L433.97 70.09L434.13 72.82L434.29 70.73L434.45 70.46L434.62 70.35L434.78 73.07L434.94 69.22L435.10 67.54L435.26 66.83L435.42 64.98L435.59 63.91L435.75 65.87L435.91 64.86L436.07 60.16L436.23 61.07L436.39 62.11L436.55 61.85L436.72 58.45L436.88 57.69L437.04 59.35L437.20 57.45L437.36 57.54L437.52 56.91L437.68 52.16L437.85 57.91L438.01 52.90L438.17 55.91L438.33 54.43L438.49 50.51L438.65 54.34L438.82 52.92L438.98 52.72L439.14 51.00L439.30 48.55L439.46 46.20L439.62 49.44L439.78 45.63L439.95 49.54L440.11 42.02L440.27 46.87L440.43 46.39L440.59 44.26L440.75 44.05L440.91 44.01L441.08 46.61L441.24 40.71L441.40 40.42L441.56 42.17L441.72 43.24L441.88 39.72L442.05 37.42L442.21 42.93L442.37 41.20L442.53 38.27L442.69 39.78L442.85 38.42L443.01 37.54L443.18 35.33L443.34 34.96L443.50 34.19L443.66 34.02L443.82 36.91L443.98 40.32L444.14 34.36L444.31 33.82L444.47 33.59L444.63 35.72L444.79 30.12L444.95 37.49L445.11 32.16L445.28 32.42L445.44 31.68L445.60 30.57L445.76 32.34L445.92 32.57L446.08 33.78L446.24 31.47L446.41 32.18L446.57 31.25L446.73 35.25L446.89 36.00L447.05 32.63L447.21 31.63L447.37 35.92L447.54 34.83L447.70 33.44L447.86 32.12L448.02 32.08L448.18 30.71L448.34 33.18L448.51 31.99L448.67 30.26L448.83 33.57L448.99 28.33L449.15 33.91L449.31 32.96L449.47 37.25L449.64 33.57L449.80 34.59L449.96 34.90L450.12 33.05L450.28 36.07L450.44 33.44L450.60 38.22L450.77 35.25L450.93 31.55L451.09 34.31L451.25 33.52L451.41 36.90L451.57 37.96L451.74 32.57L451.90 33.58L452.06 34.17L452.22 36.24L452.38 34.05L452.54 37.65L452.70 35.61L452.87 35.97L453.03 39.49L453.19 34.95L453.35 37.94L453.51 36.80L453.67 41.95L453.83 41.64L454.00 40.40L454.16 38.84L454.32 37.88L454.48 39.94L454.64 41.42L454.80 40.40L454.97 42.52L455.13 42.16L455.29 42.13L455.45 44.85L455.61 43.01L455.77 47.33L455.93 46.45L456.10 43.77L456.26 46.91L456.42 44.93L456.58 45.83L456.74 47.08L456.90 43.86L457.06 46.37L457.23 48.94L457.39 49.13L457.55 48.14L457.71 51.85L457.87 46.66L458.03 49.55L458.20 53.33L458.36 52.14L458.52 47.47L458.68 50.29L458.84 46.59L459.00 51.43L459.16 50.88L459.33 48.15L459.49 48.15L459.65 54.94L459.81 51.52L459.97 55.94L460.13 55.08L460.29 58.11L460.46 53.57L460.62 57.24L460.78 57.04L460.94 51.66L461.10 54.08L461.26 56.52L461.43 60.15L461.59 55.93L461.75 61.59L461.91 58.87L462.07 55.75L462.23 55.63L462.39 57.18L462.56 55.95L462.72 57.43L462.88 59.62L463.04 58.12L463.20 54.73L463.36 58.64L463.52 58.11L463.69 57.81L463.85 62.09L464.01 61.58L464.17 62.99L464.33 59.23L464.49 61.03L464.66 63.18L464.82 63.55L464.98 59.70L465.14 59.82L465.30 61.04L465.46 62.19L465.62 61.55L465.79 62.93L465.95 62.56L466.11 64.52L466.27 66.16L466.43 65.94L466.59 64.18L466.75 61.53L466.92 67.19L467.08 68.07L467.24 64.56L467.40 64.90L467.56 68.29L467.72 68.36L467.88 68.74L468.05 67.15L468.21 61.75L468.37 70.06L468.53 68.27L468.69 70.29L468.85 69.29L469.02 69.08L469.18 69.71L469.34 72.76L469.50 73.08L469.66 69.39L469.82 71.13L469.98 71.65L470.15 71.20L470.31 74.34L470.47 70.59L470.63 75.18L470.79 76.08L470.95 76.27L471.12 74.82L471.28 69.38L471.44 75.19L471.60 75.05L471.76 72.82L471.92 77.21L472.08 79.79L472.25 78.56L472.41 78.43L472.57 81.47L472.73 78.98L472.89 78.58L473.05 74.88L473.21 77.85L473.38 79.58L473.54 81.26L473.70 82.02L473.86 84.59L474.02 81.38L474.18 86.11L474.35 81.98L474.51 78.47L474.67 83.02L474.83 81.58L474.99 84.55L475.15 86.90L475.31 82.65L475.48 83.95L475.64 82.65L475.80 83.57L475.96 82.76L476.12 85.22L476.28 83.30L476.44 82.51L476.61 85.94L476.77 85.68L476.93 82.93L477.09 84.24L477.25 85.84L477.41 88.68L477.57 86.06L477.74 82.31L477.90 86.25L478.06 85.51L478.22 86.76L478.38 84.79L478.54 84.22L478.71 83.24L478.87 84.82L479.03 85.39L479.19 78.25L479.35 81.81L479.51 83.36L479.67 81.26L479.84 79.22L480.00 77.20L480.16 78.09L480.32 78.65L480.48 76.15L480.64 79.38L480.81 77.75L480.97 72.48L481.13 73.93L481.29 73.77L481.45 74.25L481.61 74.64L481.77 70.95L481.94 70.66L482.10 66.40L482.26 71.07L482.42 68.55L482.58 68.60L482.74 69.01L482.90 62.62L483.07 62.85L483.23 64.71L483.39 67.23L483.55 62.94L483.71 61.85L483.87 63.47L484.04 64.84L484.20 57.03L484.36 62.97L484.52 57.13L484.68 60.11L484.84 58.83L485.00 55.19L485.17 59.01L485.33 56.62L485.49 55.34L485.65 52.05L485.81 51.69L485.97 52.79L486.13 54.95L486.30 49.12L486.46 51.78L486.62 49.60L486.78 53.39L486.94 49.18L487.10 47.07L487.27 48.23L487.43 45.57L487.59 43.52L487.75 42.32L487.91 46.21L488.07 47.67L488.23 49.03L488.40 43.99L488.56 46.16L488.72 41.21L488.88 46.06L489.04 38.87L489.20 40.51L489.36 43.50L489.53 39.09L489.69 38.02L489.85 37.63L490.01 38.46L490.17 36.75L490.33 36.58L490.50 38.04L490.66 36.78L490.82 39.37L490.98 34.67L491.14 38.69L491.30 36.04L491.46 37.83L491.63 33.10L491.79 34.47L491.95 36.77L492.11 33.81L492.27 34.63L492.43 32.60L492.59 33.76L492.76 33.80L492.92 34.05L493.08 36.90L493.24 32.31L493.40 31.62L493.56 35.12L493.73 31.91L493.89 30.42L494.05 30.87L494.21 29.97L494.37 30.70L494.53 33.39L494.69 27.87L494.86 32.22L495.02 33.51L495.18 29.14L495.34 33.62L495.50 30.28L495.66 33.70L495.82 29.53L495.99 29.23L496.15 32.85L496.31 30.66L496.47 30.34L496.63 32.00L496.79 30.74L496.96 32.04L497.12 33.19L497.28 33.92L497.44 31.25L497.60 30.73L497.76 30.16L497.92 30.91L498.09 30.52L498.25 32.74L498.41 28.40L498.57 33.82L498.73 30.53L498.89 32.54L499.05 32.86L499.22 28.04L499.38 31.34L499.54 35.01L499.70 32.04L499.86 34.00L500.02 29.42L500.19 35.33L500.35 33.81L500.51 35.39L500.67 35.87L500.83 33.50L500.99 33.02L501.15 33.14L501.32 36.36L501.48 37.66L501.64 35.67L501.80 38.01L501.96 34.30L502.12 40.90L502.28 37.48L502.45 41.45L502.61 41.41L502.77 43.14L502.93 43.02L503.09 39.71L503.25 42.78L503.42 44.02L503.58 44.83L503.74 44.71L503.90 44.17L504.06 41.92L504.22 44.15L504.38 44.75L504.55 45.34L504.71 44.02L504.87 47.86L505.03 45.63L505.19 48.99L505.35 49.24L505.51 46.06L505.68 47.60L505.84 48.48L506.00 50.43L506.16 47.79L506.32 44.51L506.48 48.21L506.65 48.51L506.81 50.23L506.97 47.89L507.13 51.52L507.29 44.91L507.45 50.87L507.61 51.63L507.78 49.56L507.94 54.80L508.10 54.28L508.26 54.74L508.42 54.06L508.58 50.29L508.74 56.28L508.91 49.51L509.07 52.99L509.23 52.06L509.39 55.21L509.55 59.17L509.71 58.81L509.88 53.84L510.04 57.55L510.20 56.42L510.36 56.82L510.52 54.60L510.68 55.26L510.84 57.54L511.01 58.31L511.17 56.73L511.33 61.35L511.49 60.87L511.65 62.49L511.81 62.01L511.97 63.62L512.14 59.03L512.30 61.74L512.46 57.85L512.62 62.65L512.78 61.80L512.94 63.81L513.11 61.67L513.27 62.38L513.43 64.73L513.59 63.77L513.75 66.45L513.91 66.43L514.07 67.79L514.24 64.26L514.40 68.45L514.56 69.18L514.72 65.31L514.88 67.95L515.04 70.99L515.20 70.89L515.37 70.22L515.53 71.72L515.69 70.00L515.85 72.73L516.01 73.16L516.17 69.43L516.34 67.95L516.50 69.08L516.66 73.10L516.82 71.56L516.98 73.50L517.14 69.76L517.30 73.30L517.47 73.32L517.63 70.79L517.79 72.56L517.95 75.31L518.11 78.10L518.27 77.17L518.43 79.74L518.60 73.72L518.76 77.99L518.92 76.59L519.08 78.04L519.24 80.40L519.40 78.70L519.56 78.92L519.73 80.21L519.89 80.60L520.05 80.25L520.21 83.36L520.37 82.04L520.53 83.17L520.70 84.22L520.86 82.76L521.02 88.02L521.18 86.77L521.34 84.78L521.50 81.60L521.66 84.05L521.83 87.26L521.99 83.12L522.15 86.25L522.31 88.36L522.47 87.61L522.63 84.57L522.79 86.37L522.96 89.81L523.12 90.80L523.28 87.58L523.44 91.44L523.60 90.22L523.76 87.94L523.93 91.71L524.09 91.32L524.25 89.28L524.41 90.34L524.57 87.03L524.73 89.67L524.89 88.29L525.06 88.03L525.22 90.41L525.38 87.24L525.54 85.99L525.70 88.81L525.86 89.29L526.02 88.33L526.19 84.51L526.35 87.12L526.51 87.74L526.67 88.93L526.83 86.03L526.99 88.29L527.16 83.10L527.32 86.14L527.48 86.56L527.64 81.28L527.80 81.99L527.96 81.07L528.12 83.30L528.29 79.13L528.45 79.41L528.61 79.05L528.77 76.89L528.93 75.90L529.09 77.60L529.25 73.60L529.42 75.07L529.58 75.68L529.74 73.55L529.90 73.66L530.06 70.31L530.22 72.29L530.39 72.47L530.55 71.52L530.71 69.20L530.87 73.48L531.03 72.34L531.19 69.58L531.35 67.54L531.52 66.60L531.68 67.99L531.84 70.04L532.00 70.63L532.16 66.09L532.32 66.07L532.49 64.03L532.65 62.09L532.81 65.42L532.97 60.28L533.13 63.53L533.29 62.61L533.45 61.48L533.62 65.39L533.78 56.22L533.94 61.47L534.10 58.25" stroke="#006eba" stroke-width="2" fill="none" stroke-linejoin="round" stroke-linecap="round" clip-path="url(#c0)"/>
<text x="49.6" y="127.1" text-anchor="middle">0</text>
<text x="170.72" y="127.1" text-anchor="middle">0.05</text>
<text x="291.85" y="127.1" text-anchor="middle">0.1</text>
<text x="412.97" y="127.1" text-anchor="middle">0.15</text>
<text x="534.1" y="127.1" text-anchor="middle">0.2</text>
<text x="43.7" y="111.9" text-anchor="end">−2</text>
<text x="43.7" y="64.25" text-anchor="end">0</text>
<text x="43.7" y="16.6" text-anchor="end">2</text>
<text x="292.45" y="147" text-anchor="middle">Time, s</text>
<text transform="translate(18.5 57.85) rotate(-90)" text-anchor="middle">Amplitude</text>
<rect x="383" y="17.4" width="142.2" height="21.6" fill="#fff" stroke="#262626" stroke-width="1.3"/>
<path d="M386 28.2H418.5" stroke="#006eba" stroke-width="2"/>
<text x="421.8" y="34.1">original signal</text>
<path d="M146.5 246.1V150.9M243.4 246.1V150.9M340.3 246.1V150.9M437.2 246.1V150.9M50.7 198.5H534.1" stroke="#e2e2e2" stroke-width="1.6" stroke-dasharray="6.8 6.43" fill="none"/>
<path d="M49.6 246.1v-5.3M49.6 150.9v5.3M146.5 246.1v-5.3M146.5 150.9v5.3M243.4 246.1v-5.3M243.4 150.9v5.3M340.3 246.1v-5.3M340.3 150.9v5.3M437.2 246.1v-5.3M437.2 150.9v5.3M534.1 246.1v-5.3M534.1 150.9v5.3M68.98 246.1v-2.9M68.98 150.9v2.9M88.36 246.1v-2.9M88.36 150.9v2.9M107.74 246.1v-2.9M107.74 150.9v2.9M127.12 246.1v-2.9M127.12 150.9v2.9M165.88 246.1v-2.9M165.88 150.9v2.9M185.26 246.1v-2.9M185.26 150.9v2.9M204.64 246.1v-2.9M204.64 150.9v2.9M224.02 246.1v-2.9M224.02 150.9v2.9M262.78 246.1v-2.9M262.78 150.9v2.9M282.16 246.1v-2.9M282.16 150.9v2.9M301.54 246.1v-2.9M301.54 150.9v2.9M320.92 246.1v-2.9M320.92 150.9v2.9M359.68 246.1v-2.9M359.68 150.9v2.9M379.06 246.1v-2.9M379.06 150.9v2.9M398.44 246.1v-2.9M398.44 150.9v2.9M417.82 246.1v-2.9M417.82 150.9v2.9M456.58 246.1v-2.9M456.58 150.9v2.9M475.96 246.1v-2.9M475.96 150.9v2.9M495.34 246.1v-2.9M495.34 150.9v2.9M514.72 246.1v-2.9M514.72 150.9v2.9M49.6 246.1h5.3M534.1 246.1h-5.3M49.6 198.5h5.3M534.1 198.5h-5.3M49.6 150.9h5.3M534.1 150.9h-5.3M49.6 236.58h2.9M534.1 236.58h-2.9M49.6 227.06h2.9M534.1 227.06h-2.9M49.6 217.54h2.9M534.1 217.54h-2.9M49.6 208.02h2.9M534.1 208.02h-2.9M49.6 188.98h2.9M534.1 188.98h-2.9M49.6 179.46h2.9M534.1 179.46h-2.9M49.6 169.94h2.9M534.1 169.94h-2.9M49.6 160.42h2.9M534.1 160.42h-2.9" stroke="#262626" stroke-width="1.3" fill="none"/>
<rect x="49.6" y="150.9" width="484.5" height="95.2" stroke="#262626" stroke-width="1.6" fill="none"/>
<clipPath id="c1"><rect x="48.6" y="149.9" width="486.5" height="97.19999999999999"/></clipPath>
<path d="M49.60 245.97L54.45 245.80L59.29 245.89L64.14 245.88L68.98 245.74L73.83 245.62L78.67 245.98L83.52 245.96L88.36 246.09L93.20 245.89L98.05 150.90L102.90 246.09L107.74 237.53L112.59 246.04L117.43 245.34L122.28 245.72L127.12 245.91L131.97 245.98L136.81 246.04L141.66 245.95L146.50 228.01L151.34 246.04L156.19 245.99L161.03 246.07L165.88 245.89L170.72 245.70L175.57 245.96L180.41 246.05L185.26 245.80L190.10 245.78L194.95 245.99L199.79 246.03L204.64 245.87L209.49 246.01L214.33 245.72L219.17 246.04L224.02 245.96L228.86 246.02L233.71 246.03L238.56 246.00L243.40 245.96L248.24 246.00L253.09 245.95L257.94 246.09L262.78 245.94L267.62 245.98L272.47 245.98L277.31 245.97L282.16 245.87L287.00 246.07L291.85 246.05L296.69 245.95L301.54 246.09L306.39 245.71L311.23 245.84L316.08 245.96L320.92 246.03L325.76 245.72L330.61 245.96L335.45 246.03L340.30 246.07L345.15 245.83L349.99 245.82L354.84 245.88L359.68 246.01L364.53 245.98L369.37 246.00L374.22 245.96L379.06 246.05L383.90 246.07L388.75 246.04L393.60 245.84L398.44 245.97L403.29 245.77L408.13 245.93L412.98 246.07L417.82 246.08L422.67 246.00L427.51 245.90L432.36 245.70L437.20 245.92L442.05 245.98L446.89 246.00L451.74 245.96L456.58 245.96L461.43 245.89L466.27 245.91L471.12 245.94L475.96 245.67L480.81 246.03L485.65 245.98L490.50 246.10L495.34 246.00L500.19 246.00L505.03 245.97L509.88 245.93L514.72 246.07L519.56 246.06L524.41 246.01L529.25 245.90" stroke="#006eba" stroke-width="2" fill="none" stroke-linejoin="round" stroke-linecap="round" clip-path="url(#c1)"/>
<text x="49.6" y="267.7" text-anchor="middle">0</text>
<text x="146.5" y="267.7" text-anchor="middle">100</text>
<text x="243.4" y="267.7" text-anchor="middle">200</text>
<text x="340.3" y="267.7" text-anchor="middle">300</text>
<text x="437.2" y="267.7" text-anchor="middle">400</text>
<text x="534.1" y="267.7" text-anchor="middle">500</text>
<text x="43.7" y="252.5" text-anchor="end">0</text>
<text x="43.7" y="204.9" text-anchor="end">0.5</text>
<text x="43.7" y="157.3" text-anchor="end">1</text>
<text x="292.45" y="287.6" text-anchor="middle">Frequency,Hz</text>
<text transform="translate(16.0 198.5) rotate(-90)" text-anchor="middle">Amplitude</text>
<rect x="342.8" y="157.4" width="182.6" height="21.9" fill="#fff" stroke="#262626" stroke-width="1.3"/>
<path d="M345.8 168.35H378.3" stroke="#006eba" stroke-width="2"/>
<text x="381.6" y="174.25">Signal Spectrogram</text>
<path d="M170.72 386.6V291.7M291.85 386.6V291.7M412.97 386.6V291.7M50.7 378.5H534.1M50.7 339.6H534.1M50.7 300.7H534.1" stroke="#e2e2e2" stroke-width="1.6" stroke-dasharray="6.8 6.43" fill="none"/>
<path d="M49.6 386.6v-5.3M49.6 291.7v5.3M170.72 386.6v-5.3M170.72 291.7v5.3M291.85 386.6v-5.3M291.85 291.7v5.3M412.97 386.6v-5.3M412.97 291.7v5.3M534.1 386.6v-5.3M534.1 291.7v5.3M73.83 386.6v-2.9M73.83 291.7v2.9M98.05 386.6v-2.9M98.05 291.7v2.9M122.28 386.6v-2.9M122.28 291.7v2.9M146.5 386.6v-2.9M146.5 291.7v2.9M194.95 386.6v-2.9M194.95 291.7v2.9M219.18 386.6v-2.9M219.18 291.7v2.9M243.4 386.6v-2.9M243.4 291.7v2.9M267.62 386.6v-2.9M267.62 291.7v2.9M316.07 386.6v-2.9M316.07 291.7v2.9M340.3 386.6v-2.9M340.3 291.7v2.9M364.53 386.6v-2.9M364.53 291.7v2.9M388.75 386.6v-2.9M388.75 291.7v2.9M437.2 386.6v-2.9M437.2 291.7v2.9M461.43 386.6v-2.9M461.43 291.7v2.9M485.65 386.6v-2.9M485.65 291.7v2.9M509.88 386.6v-2.9M509.88 291.7v2.9M49.6 378.5h5.3M534.1 378.5h-5.3M49.6 339.6h5.3M534.1 339.6h-5.3M49.6 300.7h5.3M534.1 300.7h-5.3M49.6 386.28h2.9M534.1 386.28h-2.9M49.6 370.72h2.9M534.1 370.72h-2.9M49.6 362.94h2.9M534.1 362.94h-2.9M49.6 355.16h2.9M534.1 355.16h-2.9M49.6 347.38h2.9M534.1 347.38h-2.9M49.6 331.82h2.9M534.1 331.82h-2.9M49.6 324.04h2.9M534.1 324.04h-2.9M49.6 316.26h2.9M534.1 316.26h-2.9M49.6 308.48h2.9M534.1 308.48h-2.9M49.6 292.92h2.9M534.1 292.92h-2.9" stroke="#262626" stroke-width="1.3" fill="none"/>
<rect x="49.6" y="291.7" width="484.5" height="94.9" stroke="#262626" stroke-width="1.6" fill="none"/>
<clipPath id="c2"><rect x="48.6" y="290.7" width="486.5" height="96.90000000000003"/></clipPath>
<path d="M49.60 332.09L50.08 330.33L50.57 328.31L51.05 326.09L51.54 323.69L52.02 320.83L52.51 317.60L52.99 314.29L53.48 311.00L53.96 307.45L54.45 304.06L54.93 301.36L55.41 299.07L55.90 297.02L56.38 295.71L56.87 295.42L57.35 295.30L57.84 295.23L58.32 295.20L58.81 295.29L59.29 295.50L59.77 295.78L60.26 296.09L60.74 296.38L61.23 296.63L61.71 296.93L62.20 297.38L62.68 298.60L63.17 301.00L63.65 303.23L64.14 305.25L64.62 307.23L65.10 309.14L65.59 310.89L66.07 312.50L66.56 314.08L67.04 315.75L67.53 317.61L68.01 319.87L68.50 322.46L68.98 325.10L69.46 327.55L69.95 329.57L70.43 331.26L70.92 332.79L71.40 334.23L71.89 335.68L72.37 337.24L72.86 338.92L73.34 340.64L73.83 342.37L74.31 344.04L74.79 345.62L75.28 347.08L75.76 348.48L76.25 349.89L76.73 351.37L77.22 352.96L77.70 354.68L78.19 356.46L78.67 358.20L79.15 359.85L79.64 361.31L80.12 362.60L80.61 363.90L81.09 365.35L81.58 367.12L82.06 369.72L82.55 372.36L83.03 374.43L83.52 376.31L84.00 377.83L84.48 378.90L84.97 379.88L85.45 380.65L85.94 381.07L86.42 381.06L86.91 380.89L87.39 380.60L87.88 380.25L88.36 379.85L88.84 379.29L89.33 378.51L89.81 377.60L90.30 376.62L90.78 375.63L91.27 374.65L91.75 373.59L92.24 372.37L92.72 370.92L93.21 369.02L93.69 366.34L94.17 363.23L94.66 360.06L95.14 356.66L95.63 353.05L96.11 349.41L96.60 345.90L97.08 342.48L97.57 339.05L98.05 335.53L98.53 331.78L99.02 327.92L99.50 324.20L99.99 320.85L100.47 317.80L100.96 314.92L101.44 312.11L101.93 309.20L102.41 305.99L102.90 303.11L103.38 301.29L103.86 300.07L104.35 299.14L104.83 298.71L105.32 298.70L105.80 298.70L106.29 298.70L106.77 298.70L107.26 298.70L107.74 298.70L108.22 298.83L108.71 299.26L109.19 299.92L109.68 300.73L110.16 301.62L110.65 303.00L111.13 304.92L111.62 307.12L112.10 309.34L112.59 311.35L113.07 313.43L113.55 315.53L114.04 317.53L114.52 319.26L115.01 320.63L115.49 321.76L115.98 322.76L116.46 323.73L116.95 324.75L117.43 325.94L117.91 327.23L118.40 328.61L118.88 330.07L119.37 331.62L119.85 333.30L120.34 335.19L120.82 337.21L121.31 339.25L121.79 341.19L122.28 342.98L122.76 344.72L123.24 346.42L123.73 348.06L124.21 349.64L124.70 351.21L125.18 352.76L125.67 354.25L126.15 355.61L126.64 356.82L127.12 357.79L127.60 358.65L128.09 359.52L128.57 360.53L129.06 361.89L129.54 363.75L130.03 365.82L130.51 367.70L131.00 369.30L131.48 370.88L131.97 372.34L132.45 373.56L132.93 374.45L133.42 375.16L133.90 375.80L134.39 376.32L134.87 376.63L135.36 376.70L135.84 376.70L136.33 376.70L136.81 376.70L137.29 376.70L137.78 376.70L138.26 376.49L138.75 375.65L139.23 374.37L139.72 372.87L140.20 370.91L140.69 368.08L141.17 364.89L141.66 361.75L142.14 358.42L142.62 354.95L143.11 351.45L143.59 347.95L144.08 344.38L144.56 340.91L145.05 337.71L145.53 334.76L146.02 331.91L146.50 329.03L146.98 325.99L147.47 322.82L147.95 319.67L148.44 316.65L148.92 313.52L149.41 310.57L149.89 308.33L150.38 306.80L150.86 305.55L151.34 304.50L151.83 303.55L152.31 302.63L152.80 301.76L153.28 301.02L153.77 300.47L154.25 300.15L154.74 299.89L155.22 299.70L155.71 299.60L156.19 299.74L156.67 300.22L157.16 300.94L157.64 301.79L158.13 302.65L158.61 303.59L159.10 304.71L159.58 305.96L160.07 307.32L160.55 308.76L161.03 310.41L161.52 312.21L162.00 314.08L162.49 315.91L162.97 317.74L163.46 319.60L163.94 321.48L164.43 323.48L164.91 325.76L165.40 328.03L165.88 329.96L166.36 331.24L166.85 331.88L167.33 332.29L167.82 332.64L168.30 333.07L168.79 333.76L169.27 335.22L169.76 337.19L170.24 339.10L170.72 340.67L171.21 342.18L171.69 343.64L172.18 345.03L172.66 346.37L173.15 347.66L173.63 348.90L174.12 350.09L174.60 351.23L175.09 352.29L175.57 353.20L176.05 354.04L176.54 354.94L177.02 356.03L177.51 357.56L177.99 359.76L178.48 362.08L178.96 363.97L179.45 365.62L179.93 367.16L180.41 368.57L180.90 369.83L181.38 370.94L181.87 371.96L182.35 372.90L182.84 373.75L183.32 374.51L183.81 375.19L184.29 375.91L184.78 376.57L185.26 377.04L185.74 377.20L186.23 376.98L186.71 376.46L187.20 375.77L187.68 374.98L188.17 373.80L188.65 372.27L189.14 370.51L189.62 368.67L190.10 366.83L190.59 364.81L191.07 362.64L191.56 360.35L192.04 357.98L192.53 355.52L193.01 352.90L193.50 350.18L193.98 347.41L194.47 344.62L194.95 341.77L195.43 338.85L195.92 335.91L196.40 333.02L196.89 330.23L197.37 327.51L197.86 324.84L198.34 322.21L198.83 319.62L199.31 317.03L199.79 314.38L200.28 311.85L200.76 309.65L201.25 307.75L201.73 306.00L202.22 304.49L202.70 303.30L203.19 302.28L203.67 301.34L204.16 300.62L204.64 300.31L205.12 300.30L205.61 300.30L206.09 300.30L206.58 300.30L207.06 300.63L207.55 301.56L208.03 302.93L208.52 304.60L209.00 307.49L209.49 311.24L209.97 313.07L210.45 314.35L210.94 315.37L211.42 316.36L211.91 317.52L212.39 318.86L212.88 320.25L213.36 321.70L213.85 323.23L214.33 324.86L214.81 326.87L215.30 328.97L215.78 330.74L216.27 331.83L216.75 332.57L217.24 333.16L217.72 333.76L218.21 334.52L218.69 335.60L219.18 336.96L219.66 338.51L220.14 340.15L220.63 342.03L221.11 344.05L221.60 346.10L222.08 348.05L222.57 349.83L223.05 351.50L223.54 353.12L224.02 354.78L224.50 356.52L224.99 358.42L225.47 360.44L225.96 362.47L226.44 364.40L226.93 366.13L227.41 367.71L227.90 369.20L228.38 370.61L228.87 371.96L229.35 373.28L229.83 374.62L230.32 375.92L230.80 377.10L231.29 378.10L231.77 378.96L232.26 379.82L232.74 380.57L233.23 381.10L233.71 381.30L234.19 381.18L234.68 380.86L235.16 380.43L235.65 379.94L236.13 379.26L236.62 378.34L237.10 377.20L237.59 375.57L238.07 373.38L238.55 370.89L239.04 368.38L239.52 365.70L240.01 362.82L240.49 359.83L240.98 356.79L241.46 353.76L241.95 350.66L242.43 347.50L242.92 344.32L243.40 341.15L243.88 338.02L244.37 334.89L244.85 331.77L245.34 328.63L245.82 325.45L246.31 322.19L246.79 318.87L247.28 315.61L247.76 312.52L248.24 309.33L248.73 306.12L249.21 303.36L249.70 301.51L250.18 300.37L250.67 299.46L251.15 298.73L251.64 298.16L252.12 297.69L252.61 297.26L253.09 296.96L253.57 296.92L254.06 297.10L254.54 297.45L255.03 297.92L255.51 298.48L256.00 299.16L256.48 300.24L256.97 301.63L257.45 303.16L257.94 304.70L258.42 306.21L258.90 307.81L259.39 309.50L259.87 311.28L260.36 313.13L260.84 315.18L261.33 317.36L261.81 319.44L262.30 321.32L262.78 323.10L263.26 324.81L263.75 326.52L264.23 328.22L264.72 329.90L265.20 331.56L265.69 333.24L266.17 334.96L266.66 336.76L267.14 338.61L267.62 340.43L268.11 342.16L268.59 343.73L269.08 345.17L269.56 346.54L270.05 347.92L270.53 349.38L271.02 350.96L271.50 352.60L271.99 354.31L272.47 356.07L272.95 357.91L273.44 359.91L273.92 362.03L274.41 364.12L274.89 366.05L275.38 367.87L275.86 369.62L276.35 371.29L276.83 372.87L277.31 374.36L277.80 375.87L278.28 377.31L278.77 378.61L279.25 379.65L279.74 380.44L280.22 381.20L280.71 381.88L281.19 382.43L281.68 382.79L282.16 382.90L282.64 382.82L283.13 382.62L283.61 382.33L284.10 381.96L284.58 381.49L285.07 380.53L285.55 379.11L286.04 377.40L286.52 375.57L287.00 373.70L287.49 371.54L287.97 369.12L288.46 366.50L288.94 363.73L289.43 360.79L289.91 357.59L290.40 354.16L290.88 350.55L291.37 346.78L291.85 342.55L292.33 337.93L292.82 333.29L293.30 329.00L293.79 325.38L294.27 322.19L294.76 319.26L295.24 316.50L295.73 313.85L296.21 311.30L296.69 309.03L297.18 306.84L297.66 304.51L298.15 301.82L298.63 297.85L299.12 294.55L299.60 293.23L300.09 292.28L300.57 291.82L301.06 291.86L301.54 292.12L302.02 292.53L302.51 293.12L302.99 294.48L303.48 296.36L303.96 298.33L304.45 300.06L304.93 301.82L305.42 303.59L305.90 305.30L306.39 306.86L306.87 308.18L307.35 309.28L307.84 310.32L308.32 311.48L308.81 312.93L309.29 314.97L309.78 317.55L310.26 320.29L310.75 322.84L311.23 325.34L311.71 327.80L312.20 330.10L312.68 332.22L313.17 334.26L313.65 336.20L314.14 338.02L314.62 339.71L315.11 341.26L315.59 342.70L316.07 344.09L316.56 345.49L317.04 346.92L317.53 348.32L318.01 349.72L318.50 351.16L318.98 352.70L319.47 354.41L319.95 356.28L320.44 358.25L320.92 360.25L321.40 362.22L321.89 364.20L322.37 366.22L322.86 368.22L323.34 370.12L323.83 371.84L324.31 373.59L324.80 375.30L325.28 376.81L325.76 377.94L326.25 378.61L326.73 379.16L327.22 379.62L327.70 379.94L328.19 380.10L328.67 380.09L329.16 380.03L329.64 379.94L330.13 379.81L330.61 379.65L331.09 379.45L331.58 379.03L332.06 378.09L332.55 376.76L333.03 375.22L333.52 373.65L334.00 371.92L334.49 369.90L334.97 367.64L335.45 365.21L335.94 362.64L336.42 359.78L336.91 356.64L337.39 353.34L337.88 350.01L338.36 346.72L338.85 343.37L339.33 339.96L339.82 336.52L340.30 333.10L340.78 329.68L341.27 326.21L341.75 322.80L342.24 319.55L342.72 316.35L343.21 313.16L343.69 310.15L344.18 307.49L344.66 305.34L345.15 303.43L345.63 301.74L346.11 300.35L346.60 299.32L347.08 298.44L347.57 297.64L348.05 297.04L348.54 296.72L349.02 296.75L349.51 296.97L349.99 297.35L350.47 297.85L350.96 298.45L351.44 299.50L351.93 301.29L352.41 303.44L352.90 305.58L353.38 307.55L353.87 309.59L354.35 311.65L354.84 313.64L355.32 315.60L355.80 317.52L356.29 319.35L356.77 321.02L357.26 322.55L357.74 324.03L358.23 325.56L358.71 327.21L359.20 328.95L359.68 330.71L360.16 332.44L360.65 334.06L361.13 335.58L361.62 337.04L362.10 338.46L362.59 339.88L363.07 341.31L363.56 342.75L364.04 344.17L364.53 345.60L365.01 347.03L365.49 348.48L365.98 349.93L366.46 351.38L366.95 352.84L367.43 354.30L367.92 355.75L368.40 357.20L368.89 358.66L369.37 360.11L369.85 361.57L370.34 363.08L370.82 364.62L371.31 366.13L371.79 367.52L372.28 368.72L372.76 369.80L373.25 370.79L373.73 371.72L374.22 372.58L374.70 373.42L375.18 374.25L375.67 375.03L376.15 375.71L376.64 376.25L377.12 376.66L377.61 377.05L378.09 377.32L378.58 377.40L379.06 377.18L379.54 376.68L380.03 376.00L380.51 375.20L381.00 374.32L381.48 373.09L381.97 371.53L382.45 369.72L382.94 367.78L383.42 365.67L383.91 363.15L384.39 360.37L384.87 357.51L385.36 354.73L385.84 352.14L386.33 349.64L386.81 347.06L387.30 344.27L387.78 341.02L388.27 337.07L388.75 333.08L389.23 329.81L389.72 327.35L390.20 325.26L390.69 323.30L391.17 321.20L391.66 318.71L392.14 315.75L392.63 312.66L393.11 309.83L393.60 307.62L394.08 305.75L394.56 304.01L395.05 302.50L395.53 301.30L396.02 300.48L396.50 299.89L396.99 299.36L397.47 298.92L397.96 298.63L398.44 298.50L398.92 298.58L399.41 298.84L399.89 299.24L400.38 299.75L400.86 300.33L401.35 301.05L401.83 302.17L402.32 303.60L402.80 305.26L403.29 307.05L403.77 308.89L404.25 310.92L404.74 313.31L405.22 315.84L405.71 318.30L406.19 320.49L406.68 322.52L407.16 324.45L407.65 326.19L408.13 327.67L408.61 328.96L409.10 330.12L409.58 331.23L410.07 332.38L410.55 333.59L411.04 334.82L411.52 336.05L412.01 337.28L412.49 338.48L412.97 339.62L413.46 340.73L413.94 341.87L414.43 343.08L414.91 344.41L415.40 345.82L415.88 347.25L416.37 348.68L416.85 350.13L417.34 351.59L417.82 353.06L418.30 354.51L418.79 355.96L419.27 357.41L419.76 358.85L420.24 360.31L420.73 361.79L421.21 363.34L421.70 364.92L422.18 366.47L422.66 367.92L423.15 369.29L423.63 370.67L424.12 371.98L424.60 373.12L425.09 373.98L425.57 374.68L426.06 375.33L426.54 375.86L427.03 376.21L427.51 376.30L427.99 376.20L428.48 376.00L428.96 375.72L429.45 375.39L429.93 375.00L430.42 374.39L430.90 373.59L431.39 372.62L431.87 371.53L432.35 370.13L432.84 368.36L433.32 366.33L433.81 364.01L434.29 361.24L434.78 358.22L435.26 355.07L435.75 351.65L436.23 348.04L436.72 344.38L437.20 340.71L437.68 336.87L438.17 333.08L438.65 329.61L439.14 326.59L439.62 323.84L440.11 321.18L440.59 318.42L441.08 315.51L441.56 312.65L442.05 310.04L442.53 307.89L443.01 306.02L443.50 304.26L443.98 302.71L444.47 301.45L444.95 300.56L445.44 299.96L445.92 299.42L446.41 298.98L446.89 298.66L447.37 298.51L447.86 298.54L448.34 298.72L448.83 299.02L449.31 299.39L449.80 299.82L450.28 300.31L450.77 301.02L451.25 301.95L451.74 303.06L452.22 304.31L452.70 305.66L453.19 307.08L453.67 308.54L454.16 310.32L454.64 312.37L455.13 314.57L455.61 316.79L456.10 318.89L456.58 320.77L457.06 322.51L457.55 324.18L458.03 325.82L458.52 327.47L459.00 329.20L459.49 331.04L459.97 332.88L460.46 334.59L460.94 336.05L461.43 337.19L461.91 338.14L462.39 338.99L462.88 339.82L463.36 340.72L463.85 341.77L464.33 343.06L464.82 344.55L465.30 346.18L465.79 347.89L466.27 349.61L466.75 351.29L467.24 352.95L467.72 354.63L468.21 356.33L468.69 358.03L469.18 359.72L469.66 361.40L470.15 363.08L470.63 364.77L471.12 366.45L471.60 368.18L472.08 369.99L472.57 371.80L473.05 373.52L473.54 375.03L474.02 376.33L474.51 377.54L474.99 378.65L475.48 379.64L475.96 380.50L476.44 381.38L476.93 382.18L477.41 382.65L477.90 382.47L478.38 381.30L478.87 379.58L479.35 377.57L479.84 374.59L480.32 371.08L480.81 367.70L481.29 364.38L481.77 360.98L482.26 357.54L482.74 354.11L483.23 350.71L483.71 347.31L484.20 343.92L484.68 340.53L485.17 337.14L485.65 333.72L486.13 330.21L486.62 326.72L487.10 323.37L487.59 320.27L488.07 317.37L488.56 314.55L489.04 311.90L489.53 309.51L490.01 307.46L490.50 305.64L490.98 303.93L491.46 302.40L491.95 301.10L492.43 300.11L492.92 299.38L493.40 298.75L493.89 298.25L494.37 297.88L494.86 297.61L495.34 297.38L495.82 297.18L496.31 297.05L496.79 297.00L497.28 297.05L497.76 297.20L498.25 297.44L498.73 297.74L499.22 298.11L499.70 298.96L500.19 300.31L500.67 301.97L501.15 303.76L501.64 305.50L502.12 307.43L502.61 309.60L503.09 311.91L503.58 314.27L504.06 316.58L504.55 318.75L505.03 320.70L505.51 322.46L506.00 324.12L506.48 325.74L506.97 327.39L507.45 329.11L507.94 330.91L508.42 332.73L508.91 334.50L509.39 336.17L509.88 337.68L510.36 339.07L510.84 340.45L511.33 341.89L511.81 343.49L512.30 345.30L512.78 347.26L513.27 349.28L513.75 351.29L514.24 353.24L514.72 355.18L515.20 357.12L515.69 359.06L516.17 361.00L516.66 362.95L517.14 364.93L517.63 366.90L518.11 368.83L518.60 370.69L519.08 372.47L519.56 374.21L520.05 375.89L520.53 377.52L521.02 379.08L521.50 380.72L521.99 382.35L522.47 383.83L522.96 384.99L523.44 385.74L523.93 386.35L524.41 386.60L524.89 386.31L525.38 385.55L525.86 384.46L526.35 383.18L526.83 381.80L527.32 379.91L527.80 377.49L528.29 374.77L528.77 371.98L529.25 369.27L529.74 366.37L530.22 363.34L530.71 360.34L531.19 357.50L531.68 354.81L532.16 352.11L532.65 349.53L533.13 347.19L533.62 345.25L534.10 343.80" stroke="#006eba" stroke-width="2" fill="none" stroke-linejoin="round" stroke-linecap="round" clip-path="url(#c2)"/>
<text x="49.6" y="408.2" text-anchor="middle">0</text>
<text x="170.72" y="408.2" text-anchor="middle">0.05</text>
<text x="291.85" y="408.2" text-anchor="middle">0.1</text>
<text x="412.97" y="408.2" text-anchor="middle">0.15</text>
<text x="534.1" y="408.2" text-anchor="middle">0.2</text>
<text x="43.7" y="384.9" text-anchor="end">−1</text>
<text x="43.7" y="346" text-anchor="end">0</text>
<text x="43.7" y="307.1" text-anchor="end">1</text>
<text x="292.45" y="428.1" text-anchor="middle">Time, s</text>
<text transform="translate(18.7 339.15) rotate(-90)" text-anchor="middle">Amplitude</text>
<rect x="343.1" y="298.2" width="182.3" height="21.7" fill="#fff" stroke="#262626" stroke-width="1.3"/>
<path d="M346.1 309.05H378.6" stroke="#006eba" stroke-width="2"/>
<text x="381.90000000000003" y="314.95">Fundamental signal</text>
</svg>
</body></html>
